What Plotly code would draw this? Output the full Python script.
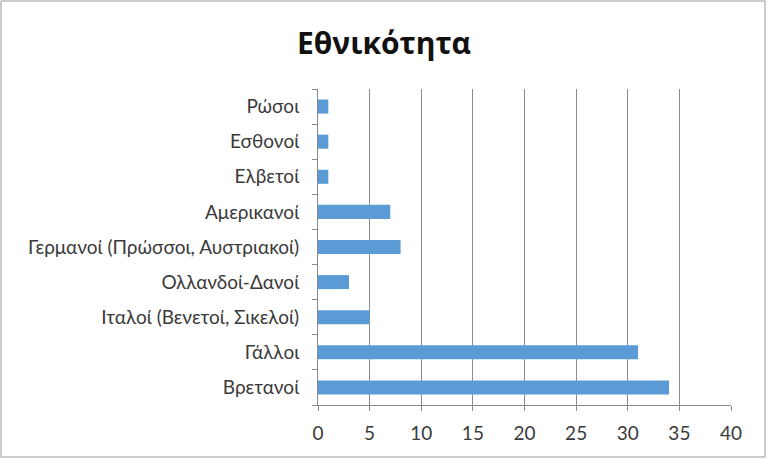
import plotly.graph_objects as go

categories = [
    'Βρετανοί',
    'Γάλλοι',
    'Ιταλοί (Βενετοί, Σικελοί)',
    'Ολλανδοί-Δανοί',
    'Γερμανοί (Πρώσσοι, Αυστριακοί)',
    'Αμερικανοί',
    'Ελβετοί',
    'Εσθονοί',
    'Ρώσοι',
]
counts = [34, 31, 5, 3, 8, 7, 1, 1, 1]
x_ticks = [0, 5, 10, 15, 20, 25, 30, 35, 40]

W, H = 768, 459
ml, mr, mt, mb = 318, 37, 89, 54
pw, ph = W - ml - mr, H - mt - mb

fig = go.Figure(go.Bar(
    x=counts,
    y=categories,
    orientation='h',
    marker=dict(color='#5b9bd5', line=dict(width=0)),
    width=0.4,
))

axis_font = dict(family='Lato, sans-serif', size=19, color='#3a3a3a')

fig.update_layout(
    width=W,
    height=H,
    margin=dict(l=ml, r=mr, t=mt, b=mb),
    paper_bgcolor='white',
    plot_bgcolor='white',
    showlegend=False,
    title=dict(
        text='<b>Εθνικότητα</b>',
        x=0.5,
        xanchor='center',
        y=1 - 43 / H,
        yanchor='middle',
        font=dict(family='Open Sans, Lato, sans-serif', size=30, color='#111'),
    ),
    xaxis=dict(
        range=[0, 40],
        tickvals=x_ticks,
        showgrid=True,
        gridcolor='#8a8a8a',
        gridwidth=1,
        showline=True,
        linecolor='#8a8a8a',
        ticks='outside',
        ticklen=5,
        tickcolor='#8a8a8a',
        tickfont=axis_font,
        ticklabelstandoff=6,
        zeroline=False,
        fixedrange=True,
        automargin=False,
    ),
    yaxis=dict(
        categoryorder='array',
        categoryarray=categories,
        showgrid=False,
        showline=True,
        linecolor='#8a8a8a',
        ticks='outside',
        tickson='boundaries',
        ticklen=5,
        tickcolor='#8a8a8a',
        tickfont=axis_font,
        ticklabelstandoff=14,
        fixedrange=True,
        automargin=False,
    ),
    shapes=[dict(
        type='rect',
        xref='paper', yref='paper',
        x0=(1 - ml) / pw, x1=(765 - ml) / pw,
        y0=(H - 457 - mb) / ph, y1=(H - 1 - mb) / ph,
        line=dict(color='#9a9a9a', width=1),
        fillcolor='rgba(0,0,0,0)',
    )],
)

fig.write_html('out.html', config={'displayModeBar': False},
               post_script="document.body.style.margin='0';")
